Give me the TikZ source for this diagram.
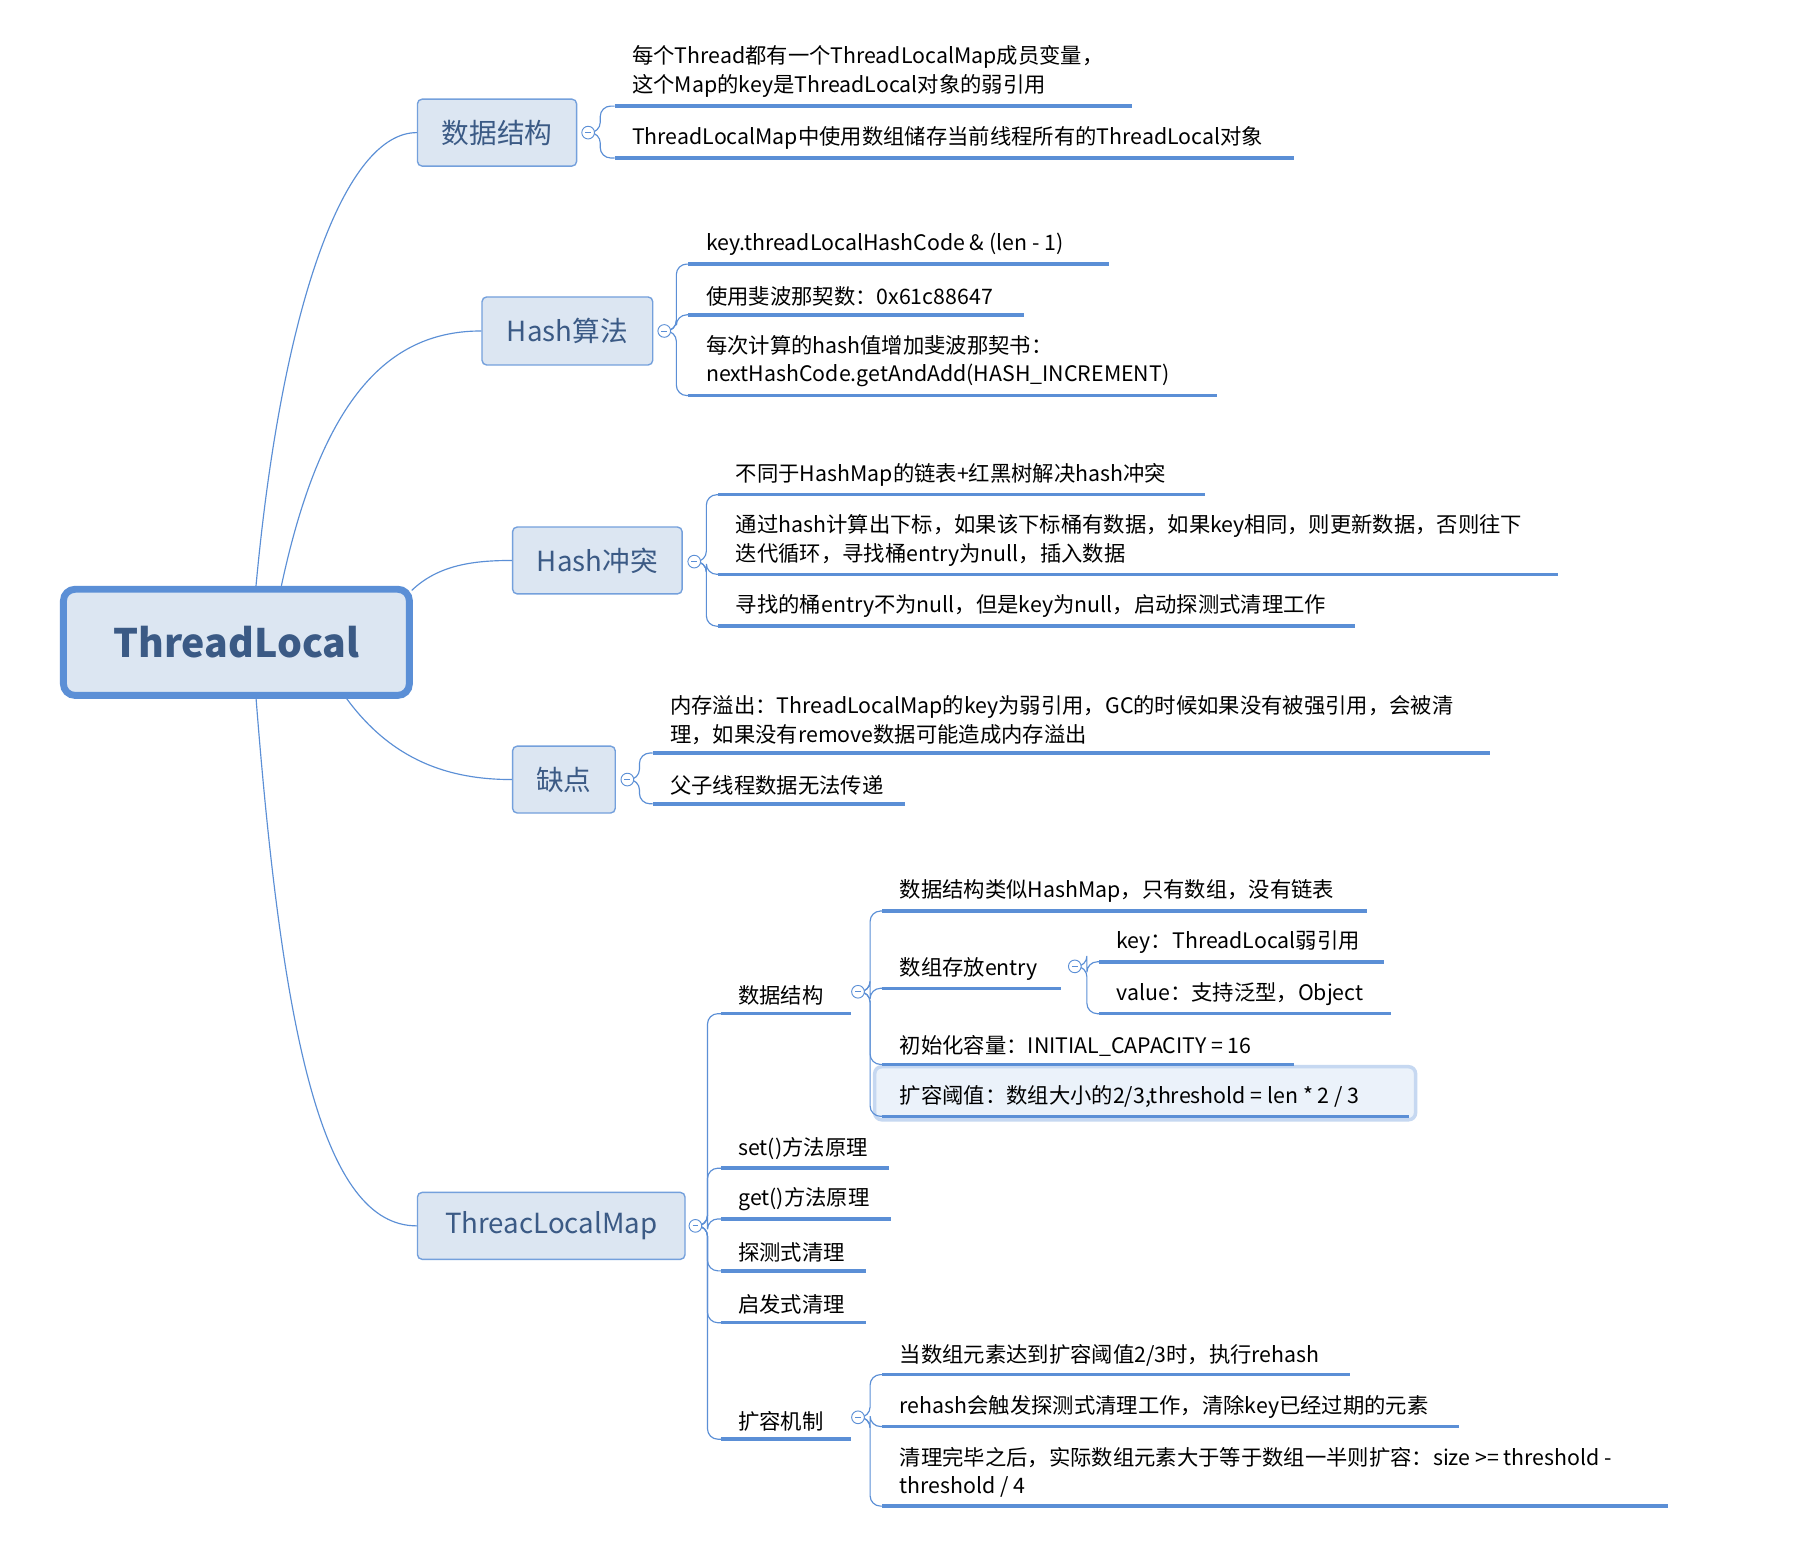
\documentclass[tikz,border=0pt]{standalone}
\usepackage{fontspec}
\setmainfont{Noto Sans CJK SC}
\definecolor{lb}{HTML}{5B8FD6}
\definecolor{bf}{HTML}{DCE6F2}
\definecolor{tb}{HTML}{3B5A85}
\tikzset{
 ul/.style={draw=lb,line width=3pt},
 br/.style={draw=lb,line width=1pt,rounded corners=9pt},
 conn/.style={draw=lb,line width=1pt},
 leaftext/.style={inner sep=2pt,align=left,font=\fontsize{18.5}{25}\selectfont},
 l1/.style={draw=lb!85,fill=bf,line width=1.2pt,rounded corners=4pt,inner sep=0pt,text=tb,font=\fontsize{24}{28}\selectfont},
 cc/.style={circle,draw=lb,fill=white,inner sep=0pt,minimum size=11pt,line width=0.8pt,
   path picture={\draw[lb,line width=0.8pt] ([xshift=-2.5pt]path picture bounding box.center)--([xshift=2.5pt]path picture bounding box.center);}},
}
\newcommand\leaf[6]{%
 \coordinate (#1-l) at (#2,#3); \coordinate (#1-r) at (#4,#3);
 \node[leaftext,anchor=south west] (#1) at ({#2+13},{#3-5}) {#5};
 \draw[ul] (#1-l) -- (#1-r);
 \draw[br] ([xshift=5.5pt]#6) -- ++(5pt,0) |- (#1-l);
}
\begin{document}
\begin{tikzpicture}[x=1pt,y=-1pt]
\useasboundingbox[fill=white] (0,0) rectangle (1560,1337);
% root
\node[draw=lb,line width=6pt,fill=bf,rounded corners=10pt,minimum width=300pt,minimum height=92pt,text=tb,font=\bfseries\fontsize{34}{40}\selectfont] (root) at (205,557) {ThreadLocal};
% level 1
\node[l1,minimum width=138pt,minimum height=58pt] (a) at (431,115) {数据结构};
\node[l1,minimum width=148pt,minimum height=59pt] (b) at (492,287) {Hash算法};
\node[l1,minimum width=147pt,minimum height=58pt] (c) at (518,486) {Hash冲突};
\node[l1,minimum width=89pt,minimum height=58pt] (d) at (489,676) {缺点};
\node[l1,minimum width=232pt,minimum height=58pt] (e) at (478,1063) {ThreacLocalMap};
\draw[conn] (222,508) .. controls (245,260) and (300,115) .. (a.west);
\draw[conn] (244,508) .. controls (280,340) and (340,287) .. (b.west);
\draw[conn] (357,512) .. controls (380,490) and (410,486) .. (c.west);
\draw[conn] (300,605) .. controls (340,660) and (390,676) .. (d.west);
\draw[conn] (222,605) .. controls (245,900) and (280,1063) .. (e.west);
% circle centres
\coordinate (ac) at (510,115);
\coordinate (bc) at (576,287);
\coordinate (ccc) at (602,487);
\coordinate (dc) at (544,676);
\coordinate (ec) at (603,1063);
\coordinate (e1c) at (744,860);
\coordinate (e6c) at (744,1229);
\coordinate (f2c) at (932,838);
% a children
\leaf{a1}{533}{92}{982}{每个Thread都有一个ThreadLocalMap成员变量，\\这个Map的key是ThreadLocal对象的弱引用}{ac}
\leaf{a2}{533}{137}{1122}{ThreadLocalMap中使用数组储存当前线程所有的ThreadLocal对象}{ac}
% b children
\leaf{b1}{597}{229}{962}{key.threadLocalHashCode \& (len - 1)}{bc}
\leaf{b2}{597}{273}{888}{使用斐波那契数：0x61c88647}{bc}
\leaf{b3}{597}{343}{1055}{每次计算的hash值增加斐波那契书：\\nextHashCode.getAndAdd(HASH\_INCREMENT)}{bc}
% c children
\leaf{c1}{623}{429}{1045}{不同于HashMap的链表+红黑树解决hash冲突}{ccc}
\leaf{c2}{623}{498}{1351}{通过hash计算出下标，如果该下标桶有数据，如果key相同，则更新数据，否则往下\\迭代循环，寻找桶entry为null，插入数据}{ccc}
\leaf{c3}{623}{543}{1175}{寻找的桶entry不为null，但是key为null，启动探测式清理工作}{ccc}
% d children
\leaf{d1}{566}{653}{1292}{内存溢出：ThreadLocalMap的key为弱引用，GC的时候如果没有被强引用，会被清\\理，如果没有remove数据可能造成内存溢出}{dc}
\leaf{d2}{566}{697}{785}{父子线程数据无法传递}{dc}
% e children
\leaf{e1}{625}{879}{735}{数据结构}{ec}
\leaf{e2}{625}{1013}{771}{set()方法原理}{ec}
\leaf{e3}{625}{1057}{773}{get()方法原理}{ec}
\leaf{e4}{625}{1102}{751}{探测式清理}{ec}
\leaf{e5}{625}{1147}{751}{启发式清理}{ec}
\leaf{e6}{625}{1248}{735}{扩容机制}{ec}
\draw[ul] (e1-r) -- (738,879);
\draw[ul] (e6-r) -- (738,1248);
% highlight
\node[draw=lb!35,fill=lb!12,line width=3pt,rounded corners=6pt,minimum width=469pt,minimum height=46pt] (hl) at (993,948) {};
\leaf{f1}{765}{790}{1185}{数据结构类似HashMap，只有数组，没有链表}{e1c}
\leaf{f2}{765}{857}{920}{数组存放entry}{e1c}
\leaf{f3}{765}{923}{1122}{初始化容量：INITIAL\_CAPACITY = 16}{e1c}
\leaf{f4}{765}{968}{1222}{扩容阈值：数组大小的2/3,threshold = len * 2 / 3}{e1c}
\leaf{g1}{953}{834}{1200}{key：ThreadLocal弱引用}{f2c}
\leaf{g2}{953}{879}{1206}{value：支持泛型，Object}{f2c}
\leaf{h1}{765}{1192}{1171}{当数组元素达到扩容阈值2/3时，执行rehash}{e6c}
\leaf{h2}{765}{1237}{1265}{rehash会触发探测式清理工作，清除key已经过期的元素}{e6c}
\leaf{h3}{765}{1306}{1446}{清理完毕之后，实际数组元素大于等于数组一半则扩容：size >= threshold -\\threshold / 4}{e6c}
% circles on top
\foreach \c in {ac,bc,ccc,dc,ec,e1c,e6c,f2c} \node[cc] (\c-n) at (\c) {};
\end{tikzpicture}
\end{document}
